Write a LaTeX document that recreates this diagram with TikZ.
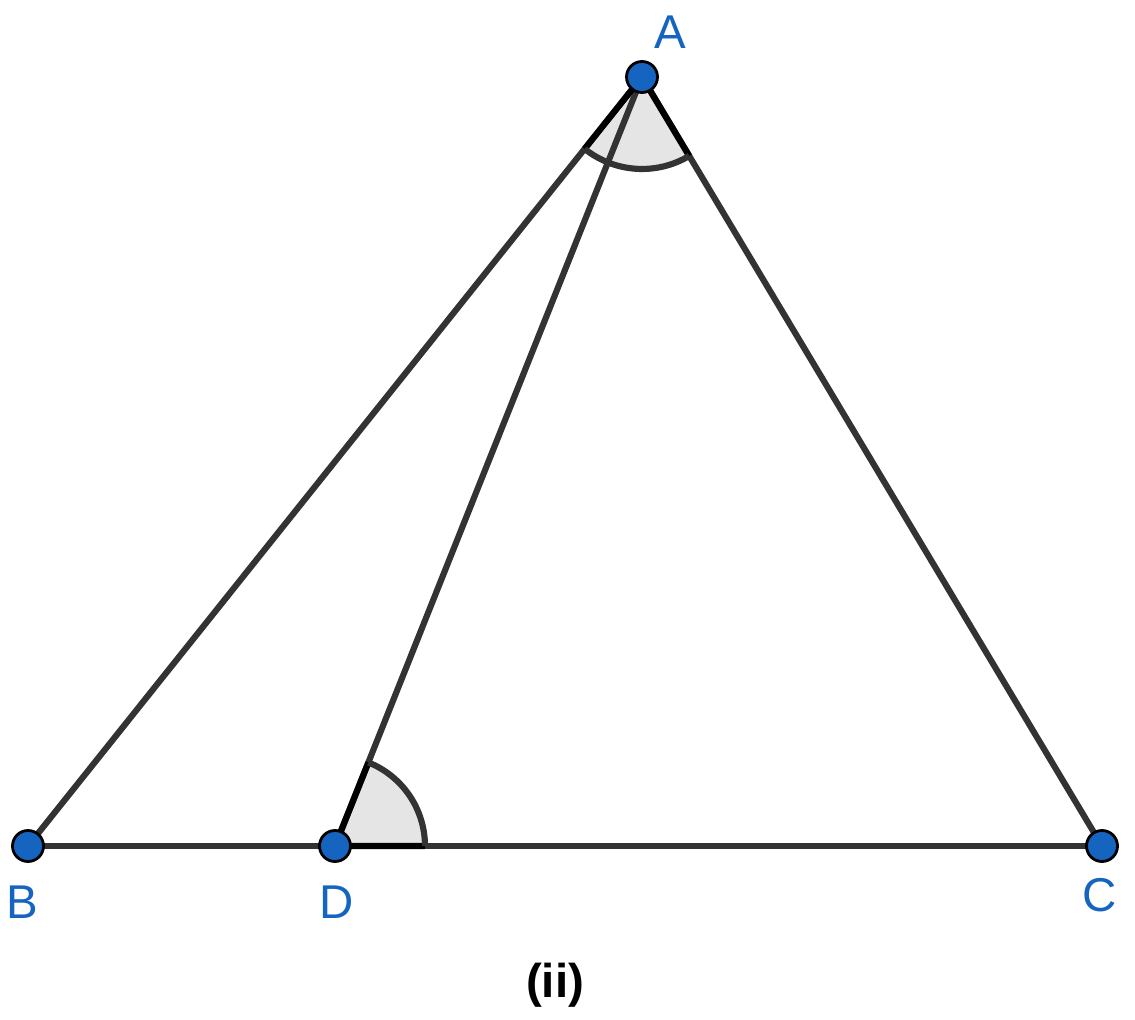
\documentclass[tikz,border=0pt]{standalone}
\usepackage{fontspec}
\setmainfont{Liberation Sans}
\definecolor{ptblue}{HTML}{1565C0}
\definecolor{segcol}{HTML}{333333}
\definecolor{angfill}{HTML}{E5E5E5}
\begin{document}
\begin{tikzpicture}[x=0.02cm,y=0.02cm,
  seg/.style={draw=segcol,line width=3.5pt},
  ray/.style={draw=black,line width=3.5pt},
  arcline/.style={draw=segcol,line width=3.5pt},
  pt/.style={circle,fill=ptblue,draw=black,line width=1.6pt,minimum size=0.62cm,inner sep=0pt},
  lab/.style={text=ptblue,font=\fontsize{27}{32}\selectfont,inner sep=0pt}]
\useasboundingbox (0,-1020) rectangle (1135,0);
\coordinate (A) at (642,-77);
\coordinate (B) at (28,-846);
\coordinate (D) at (335,-846);
\coordinate (C) at (1102,-846);
% angle fills
\fill[angfill] (A) -- ++(-128.6:1.84cm) arc[start angle=-128.6,end angle=-59.1,radius=1.84cm] -- cycle;
\fill[angfill] (D) -- ++(0:1.8cm) arc[start angle=0,end angle=68.2,radius=1.8cm] -- cycle;
% segments
\draw[seg] (A) -- (B);
\draw[seg] (A) -- (C);
\draw[seg] (B) -- (C);
\draw[seg] (A) -- (D);
% angle outlines
\draw[ray] (A) ++(-128.6:1.84cm) -- (A) -- ++(-59.1:1.84cm);
\draw[arcline] (A) ++(-128.6:1.84cm) arc[start angle=-128.6,end angle=-59.1,radius=1.84cm];
\draw[ray] (D) ++(0:1.8cm) -- (D) -- ++(68.2:1.8cm);
\draw[arcline] (D) ++(0:1.8cm) arc[start angle=0,end angle=68.2,radius=1.8cm];
% points
\node[pt] (pA) at (A) {};
\node[pt] (pB) at (B) {};
\node[pt] (pD) at (D) {};
\node[pt] (pC) at (C) {};
% labels
\node[lab] (lA) at (670,-32) {A};
\node[lab] (lB) at (22,-902) {B};
\node[lab] (lD) at (337,-902) {D};
\node[lab] (lC) at (1100,-895) {C};
\node[font=\fontsize{27}{32}\selectfont\bfseries,inner sep=0pt] (cap) at (555,-985) {(ii)};
\end{tikzpicture}
\end{document}
